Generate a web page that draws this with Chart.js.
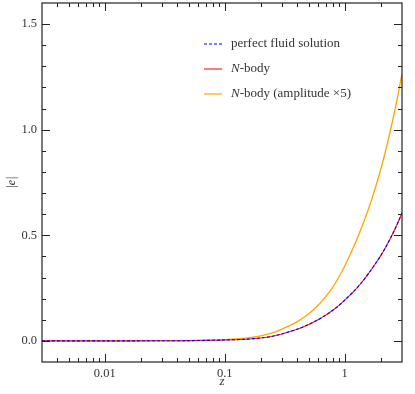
<!DOCTYPE html>
<html>
<head>
<meta charset="utf-8">
<script src="https://cdn.jsdelivr.net/npm/chart.js@4.4.0/dist/chart.umd.min.js"></script>
<style>
  html, body { margin: 0; padding: 0; background: #fff; }
  canvas { display: block; }
</style>
</head>
<body>
<canvas id="canvasid" width="415" height="394"></canvas>
<script>
// redshift z
const zValues   = [0.003, 0.01, 0.03, 0.05, 0.1, 0.15, 0.2, 0.25, 0.3, 0.4, 0.5, 0.6, 0.7, 0.8, 0.9, 1.0, 1.2, 1.4, 1.6, 1.8, 2.0, 2.2, 2.5, 2.8, 3.0];
// |e| values
const fluidVals = [0, 0.0001, 0.0005, 0.0012, 0.004, 0.008, 0.014, 0.022, 0.033, 0.055, 0.078, 0.100, 0.123, 0.146, 0.169, 0.193, 0.237, 0.28, 0.324, 0.365, 0.405, 0.445, 0.505, 0.565, 0.606];
const nbodyVals = [0, 0.0001, 0.0005, 0.0012, 0.004, 0.008, 0.014, 0.022, 0.033, 0.055, 0.078, 0.100, 0.123, 0.146, 0.169, 0.193, 0.237, 0.28, 0.324, 0.365, 0.405, 0.445, 0.505, 0.565, 0.606];
const ampVals   = [0, 0.0001, 0.0006, 0.0015, 0.006, 0.013, 0.024, 0.038, 0.056, 0.090, 0.128, 0.169, 0.212, 0.257, 0.305, 0.355, 0.452, 0.545, 0.635, 0.725, 0.815, 0.905, 1.04, 1.175, 1.267];

const xMajor = [0.01, 0.1, 1];
const yMajor = [0, 0.5, 1.0, 1.5];
const xMin = 0.003, xMax = 3;
const yMin = -0.1, yMax = 1.6;

const FONT = "'Liberation Serif', 'Times New Roman', serif";

const pairs = (arr) => zValues.map((z, i) => ({x: z, y: arr[i]}));

// frame with inward ticks on all four sides
const framePlugin = {
	id: 'frame',
	afterDatasetsDraw(chart) {
		const {ctx, chartArea: a, scales} = chart;
		const xs = scales.x, ys = scales.y;
		ctx.save();
		ctx.strokeStyle = '#222';
		ctx.lineWidth = 1.2;
		ctx.strokeRect(a.left, a.top, a.right - a.left, a.bottom - a.top);
		ctx.lineWidth = 1;
		const vtick = (v, len) => {
			const px = Math.round(xs.getPixelForValue(v)) + 0.5;
			ctx.beginPath();
			ctx.moveTo(px, a.bottom); ctx.lineTo(px, a.bottom - len);
			ctx.moveTo(px, a.top); ctx.lineTo(px, a.top + len);
			ctx.stroke();
		};
		const htick = (v, len) => {
			const py = Math.round(ys.getPixelForValue(v)) + 0.5;
			ctx.beginPath();
			ctx.moveTo(a.left, py); ctx.lineTo(a.left + len, py);
			ctx.moveTo(a.right, py); ctx.lineTo(a.right - len, py);
			ctx.stroke();
		};
		xMajor.forEach(v => vtick(v, 8));
		[0.001, 0.01, 0.1, 1].forEach(d => {
			for (let m = 2; m <= 9; m++) {
				const v = m * d;
				if (v > xMin * 1.001 && v < xMax * 0.999) vtick(v, 4);
			}
		});
		yMajor.forEach(v => htick(v, 8));
		for (let k = -1; k <= 16; k++) {
			const v = k / 10;
			if (k % 5 !== 0 && v > yMin && v < yMax) htick(v, 4);
		}
		ctx.restore();
	}
};

// legend inside the plot, top right
const legendPlugin = {
	id: 'innerLegend',
	afterDraw(chart) {
		const {ctx, chartArea: a} = chart;
		ctx.save();
		ctx.textBaseline = 'middle';
		chart.data.datasets.forEach((ds, i) => {
			const y = Math.round(a.top + 41 + i * 25);
			const x0 = Math.round(a.left + 162);
			ctx.beginPath();
			ctx.strokeStyle = ds.borderColor;
			ctx.lineWidth = 1.2;
			ctx.setLineDash(ds.borderDash || []);
			ctx.moveTo(x0, y); ctx.lineTo(x0 + 18, y);
			ctx.stroke();
			ctx.setLineDash([]);
			ctx.fillStyle = '#333';
			let x = x0 + 27;
			const label = ds.label;
			if (label.startsWith('N-')) {
				ctx.font = 'italic 13px ' + FONT;
				ctx.fillText('N', x, y);
				x += ctx.measureText('N').width;
				ctx.font = '13px ' + FONT;
				ctx.fillText(label.slice(1), x, y);
			} else {
				ctx.font = '13px ' + FONT;
				ctx.fillText(label, x, y);
			}
		});
		ctx.restore();
	}
};

const ctx = document.getElementById('canvasid').getContext('2d');
new Chart(ctx, {
	type: 'line',
	data: {
		datasets: [
			{
				label: 'perfect fluid solution',
				data: pairs(fluidVals),
				borderColor: '#0000ff',
				borderWidth: 1.1,
				borderDash: [3, 2],
				pointRadius: 0,
				fill: false,
				tension: 0.3
			},
			{
				label: 'N-body',
				data: pairs(nbodyVals),
				borderColor: '#ff2020',
				borderWidth: 1.1,
				pointRadius: 0,
				fill: false,
				tension: 0.3
			},
			{
				label: 'N-body (amplitude \u00d75)',
				data: pairs(ampVals),
				borderColor: '#ffa500',
				borderWidth: 1.3,
				pointRadius: 0,
				fill: false,
				tension: 0.3
			}
		]
	},
	options: {
		responsive: false,
		animation: false,
		devicePixelRatio: 1,
		layout: { padding: { left: 0, right: 13, top: 3, bottom: 0 } },
		plugins: { legend: { display: false }, tooltip: { enabled: false } },
		scales: {
			x: {
				type: 'logarithmic',
				min: xMin,
				max: xMax,
				afterBuildTicks: (scale) => { scale.ticks = xMajor.map(v => ({value: v})); },
				afterFit: (scale) => { scale.height = 32; scale.paddingLeft = 0; scale.paddingRight = 0; },
				grid: { display: false, drawTicks: false },
				border: { display: false },
				ticks: {
					padding: 4,
					color: '#333',
					font: { family: FONT, size: 12.5 },
					maxRotation: 0,
					autoSkip: false,
					callback: (v) => String(v)
				},
				title: {
					display: true,
					text: 'z',
					color: '#333',
					font: { family: FONT, size: 13, style: 'italic' },
					padding: { top: 0, bottom: 5 }
				}
			},
			y: {
				min: yMin,
				max: yMax,
				afterBuildTicks: (scale) => { scale.ticks = yMajor.map(v => ({value: v})); },
				afterFit: (scale) => { scale.width = 42; scale.paddingTop = 0; scale.paddingBottom = 0; },
				grid: { display: false, drawTicks: false },
				border: { display: false },
				ticks: {
					padding: 5,
					color: '#333',
					font: { family: FONT, size: 12.5 },
					callback: (v) => Number(v).toFixed(1)
				},
				title: {
					display: true,
					text: '|e|',
					color: '#333',
					font: { family: FONT, size: 12, style: 'italic' },
					padding: { top: 5, bottom: 0 }
				}
			}
		}
	},
	plugins: [framePlugin, legendPlugin]
});
</script>
</body>
</html>
